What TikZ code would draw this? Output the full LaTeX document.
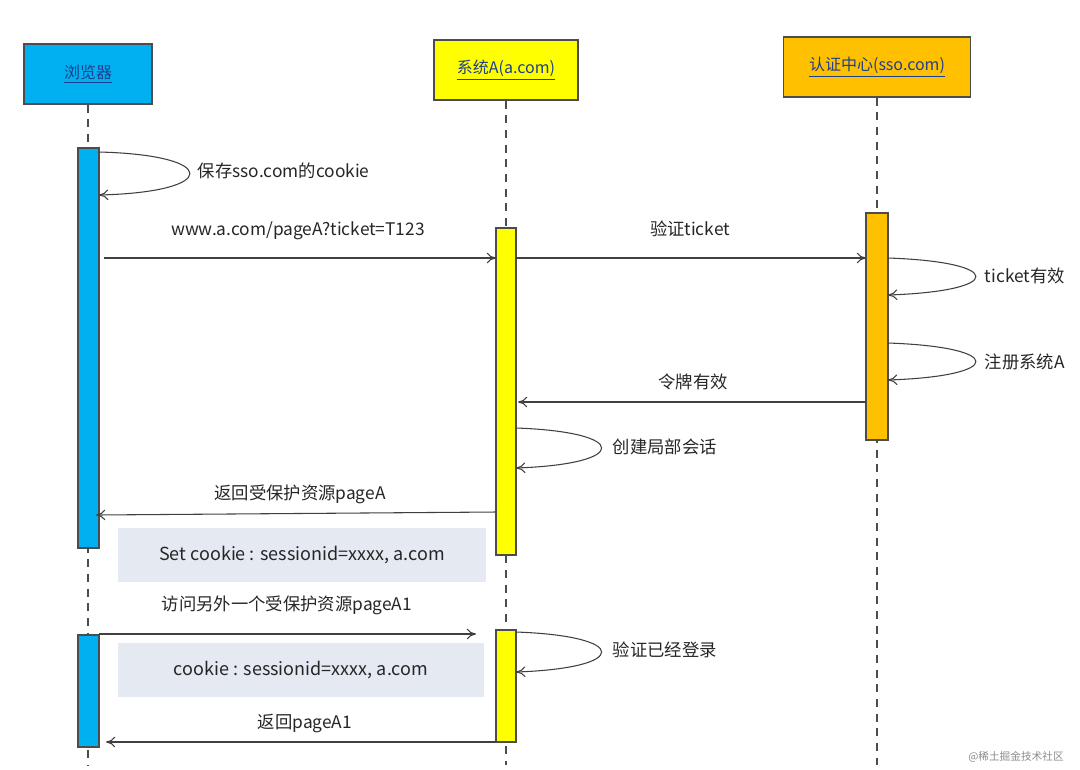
\documentclass[tikz,border=0pt]{standalone}
\usepackage{fontspec}
\setmainfont{Noto Sans CJK SC}
\usetikzlibrary{arrows.meta}
\definecolor{cyanb}{HTML}{00B0F0}
\definecolor{yel}{HTML}{FFFF00}
\definecolor{org}{HTML}{FFC000}
\definecolor{grayb}{HTML}{E4E9F2}
\definecolor{txtblue}{HTML}{1F3F8F}
\begin{document}
\begin{tikzpicture}[x=0.75pt,y=-0.75pt,line width=0.8pt,
  hdr/.style={draw=black!70,minimum height=45pt,inner sep=2pt,font=\fontsize{12}{14}\selectfont,text=txtblue},
  act/.style={draw=black!70},
  msg/.style={draw=black!75,-{To[length=7pt,width=8pt]}},
  lab/.style={font=\fontsize{13}{15}\selectfont,text=black!85},
  life/.style={draw=black!70,dashed,dash pattern=on 6pt off 5pt},
  note/.style={fill=grayb,font=\fontsize{13.5}{15}\selectfont,text=black!85}]
\useasboundingbox (0,0) rectangle (1080,769);
% headers
\node[hdr,fill=cyanb,minimum width=96pt] (hb) at (88,74) {\underline{浏览器}};
\node[hdr,fill=yel,minimum width=108pt] (ha) at (506,70) {\underline{系统A(a.com)}};
\node[hdr,fill=org,minimum width=140pt] (hs) at (877,67) {\underline{认证中心(sso.com)}};
\coordinate (eb) at (88,765); \coordinate (ea) at (506,765); \coordinate (es) at (877,765);
\draw[life] (hb.south) -- (eb); \draw[life] (ha.south) -- (ea); \draw[life] (hs.south) -- (es);
% activations
\draw[act,fill=cyanb] (78,148) rectangle (99,548);
\draw[act,fill=cyanb] (78,635) rectangle (99,747);
\draw[act,fill=yel] (496,228) rectangle (516,555);
\draw[act,fill=yel] (496,630) rectangle (516,742);
\draw[act,fill=org] (866,213) rectangle (888,440);
% notes
\node[note,minimum width=276pt,minimum height=40pt] (n1) at (302,555) {Set cookie : sessionid=xxxx, a.com};
\node[note,minimum width=274pt,minimum height=40pt] (n2) at (301,670) {cookie : sessionid=xxxx, a.com};
% browser self loop
\coordinate (b1) at (99,152); \coordinate (b2) at (99,195);
\draw[msg] (b1) .. controls (220,155) and (220,192) .. (b2);
\node[lab,anchor=west] (l0) at (193,171) {保存sso.com的cookie};
% messages
\coordinate (m1s) at (104,258); \coordinate (m1e) at (496,258);
\draw[msg] (m1s) -- (m1e);
\node[lab] (l1) at (298,231) {www.a.com/pageA?ticket=T123};
\coordinate (m2s) at (516,258); \coordinate (m2e) at (866,258);
\draw[msg] (m2s) -- (m2e);
\node[lab] (l2) at (690,229) {验证ticket};
\coordinate (s1) at (888,258); \coordinate (s2) at (888,295);
\draw[msg] (s1) .. controls (1005,262) and (1005,291) .. (s2);
\node[lab,anchor=west] (l3) at (980,276) {ticket有效};
\coordinate (s3) at (888,343); \coordinate (s4) at (888,380);
\draw[msg] (s3) .. controls (1005,347) and (1005,376) .. (s4);
\node[lab,anchor=west] (l4) at (980,362) {注册系统A};
\coordinate (m3s) at (866,402); \coordinate (m3e) at (518,402);
\draw[msg] (m3s) -- (m3e);
\node[lab] (l5) at (693,382) {令牌有效};
\coordinate (a1) at (516,428); \coordinate (a2) at (516,468);
\draw[msg] (a1) .. controls (630,432) and (630,464) .. (a2);
\node[lab,anchor=west] (l6) at (608,447) {创建局部会话};
\coordinate (m4s) at (496,512); \coordinate (m4e) at (96,515);
\draw[msg] (m4s) -- (m4e);
\node[lab] (l7) at (300,494) {返回受保护资源pageA};
\coordinate (m5s) at (99,634); \coordinate (m5e) at (476,634);
\draw[msg] (m5s) -- (m5e);
\node[lab] (l8) at (287,605) {访问另外一个受保护资源pageA1};
\coordinate (a3) at (516,632); \coordinate (a4) at (516,672);
\draw[msg] (a3) .. controls (630,636) and (630,668) .. (a4);
\node[lab,anchor=west] (l9) at (608,650) {验证已经登录};
\coordinate (m6s) at (496,742); \coordinate (m6e) at (106,742);
\draw[msg] (m6s) -- (m6e);
\node[lab] (l10) at (305,724) {返回pageA1};
\node[font=\fontsize{8}{9}\selectfont,text=black!45] (wm) at (1016,757) {@稀土掘金技术社区};
\end{tikzpicture}
\end{document}
